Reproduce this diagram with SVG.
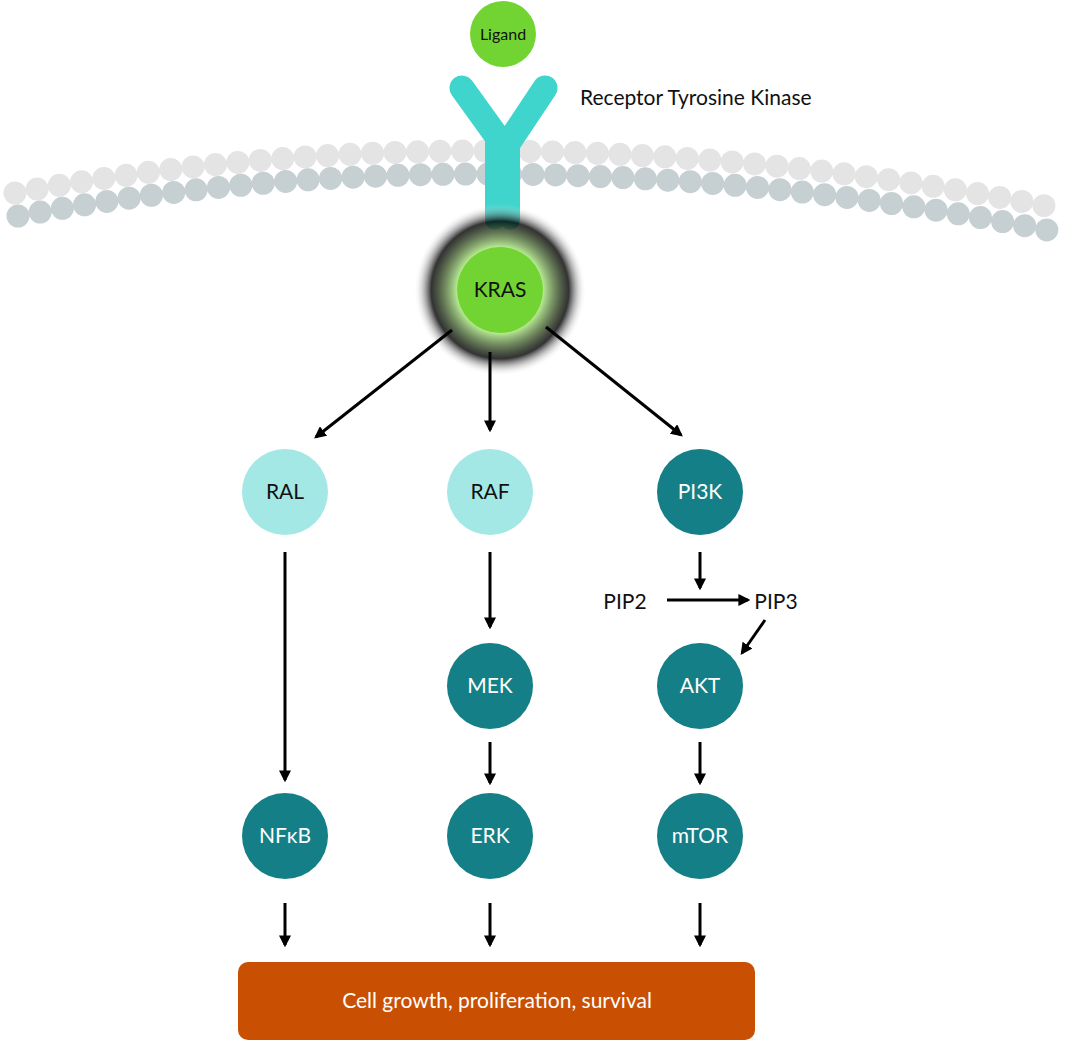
<svg xmlns="http://www.w3.org/2000/svg" width="1080" height="1041" viewBox="0 0 1080 1041">
<defs>
<style>
text{font-family:"Lato","Liberation Sans",sans-serif;text-anchor:middle}
.lt{fill:#a4e8e6}.dk{fill:#147f86}
.tl{font-size:21px;fill:#111}.tw{font-size:21px;fill:#fff}
.c line{stroke:#000;stroke-width:3;marker-end:url(#ah)}
</style>
<marker id="ah" viewBox="0 0 10 10" refX="8" refY="5" markerWidth="4" markerHeight="4" orient="auto"><path d="M0,0L10,5L0,10z" fill="#000"/></marker>
<radialGradient id="glow"><stop offset="0.5" stop-color="#b7ea93"/><stop offset="0.8" stop-color="#c4ee a6" stop-opacity="0.8"/><stop offset="1" stop-color="#ffffff" stop-opacity="0"/></radialGradient>
</defs>
<rect width="1080" height="1041" fill="#fff"/>
<g id="membrane" fill="none" stroke-linecap="round" stroke-width="23" stroke-dasharray="0 22.5">
<path d="M15,193 Q247.5,151 480,151 Q773,151 1066,210" stroke="#e4e4e4"/>
<path d="M18,216 Q249,174 480,174 Q771,174 1062,233" stroke="#c6cfd2"/>
</g>
<g id="receptor" stroke="#3fd5cc" stroke-linecap="round" fill="none">
<line x1="462" y1="88" x2="503" y2="145" stroke-width="25"/>
<line x1="545" y1="88" x2="507" y2="145" stroke-width="25"/>
<line x1="495" y1="135" x2="495" y2="220" stroke-width="20"/>
<line x1="510" y1="135" x2="510" y2="220" stroke-width="20"/>
</g>
<text x="580" y="105" style="font-size:21px;text-anchor:start" fill="#111">Receptor Tyrosine Kinase</text>
<g id="ligand"><circle cx="503" cy="34" r="33" fill="#72d432"/><text x="503" y="40" style="font-size:16px" fill="#111">Ligand</text></g>
<g id="kras"><circle cx="500" cy="290" r="86" fill="url(#glow)"/><circle cx="500" cy="290" r="43" fill="#72d432"/><text class="tl" x="500" y="297">KRAS</text></g>
<g id="ral"><circle class="lt" cx="285" cy="492" r="43"/><text class="tl" x="285" y="499">RAL</text></g>
<g id="raf"><circle class="lt" cx="490" cy="492" r="43"/><text class="tl" x="490" y="499">RAF</text></g>
<g id="pi3k"><circle class="dk" cx="700" cy="492" r="43"/><text class="tw" x="700" y="499">PI3K</text></g>
<g id="mek"><circle class="dk" cx="490" cy="686" r="43"/><text class="tw" x="490" y="693">MEK</text></g>
<g id="akt"><circle class="dk" cx="700" cy="686" r="43"/><text class="tw" x="700" y="693">AKT</text></g>
<g id="nfkb"><circle class="dk" cx="285" cy="836" r="43"/><text class="tw" x="285" y="843">NFκB</text></g>
<g id="erk"><circle class="dk" cx="490" cy="836" r="43"/><text class="tw" x="490" y="843">ERK</text></g>
<g id="mtor"><circle class="dk" cx="700" cy="836" r="43"/><text class="tw" x="700" y="843">mTOR</text></g>
<g id="pip2"><text class="tl" x="625" y="609">PIP2</text></g>
<g id="pip3"><text class="tl" x="776" y="609">PIP3</text></g>
<g id="outcome"><rect x="238" y="962" width="517" height="78" rx="10" fill="#c94f02"/><text class="tw" x="497" y="1008">Cell growth, proliferation, survival</text></g>
<g id="connectors" class="c">
<line x1="452" y1="330" x2="316" y2="437"/>
<line x1="490" y1="352" x2="490" y2="430"/>
<line x1="546" y1="327" x2="681" y2="435"/>
<line x1="285" y1="552" x2="285" y2="780"/>
<line x1="490" y1="552" x2="490" y2="627"/>
<line x1="700" y1="552" x2="700" y2="588"/>
<line x1="667" y1="600" x2="748" y2="600"/>
<line x1="765" y1="620" x2="742" y2="653"/>
<line x1="490" y1="742" x2="490" y2="783"/>
<line x1="700" y1="742" x2="700" y2="783"/>
<line x1="285" y1="903" x2="285" y2="945"/>
<line x1="490" y1="903" x2="490" y2="945"/>
<line x1="700" y1="903" x2="700" y2="945"/>
</g>
</svg>
